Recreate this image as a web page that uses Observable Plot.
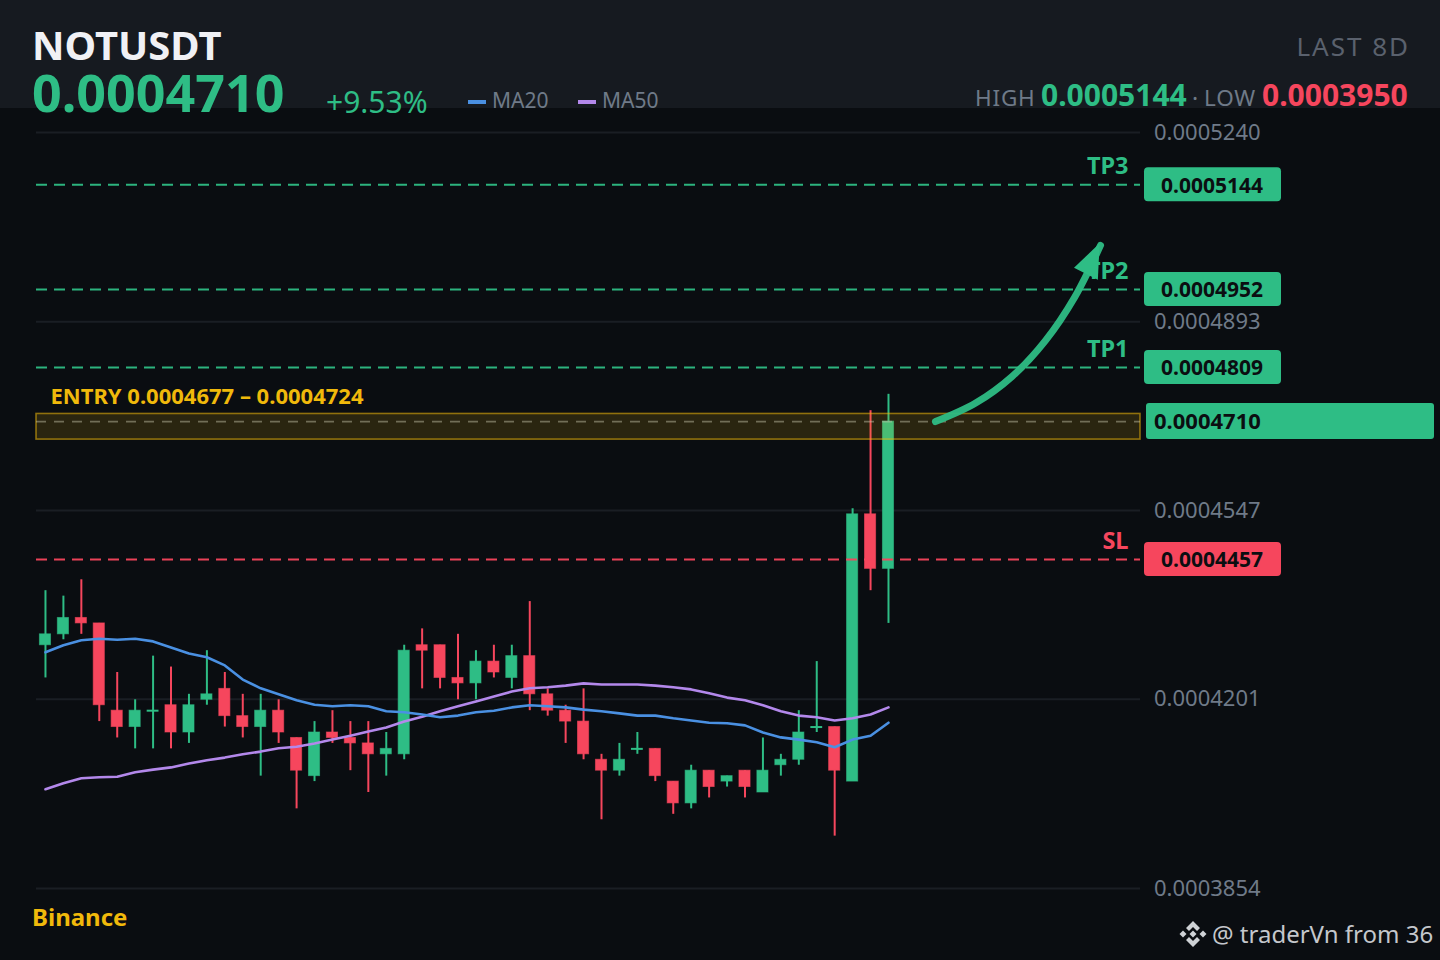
<!DOCTYPE html>
<html><head><meta charset="utf-8">
<script src="https://cdn.jsdelivr.net/npm/d3@7"></script>
<script src="https://cdn.jsdelivr.net/npm/@observablehq/plot@0.6"></script>
<style>
html,body{margin:0;padding:0;background:#0a0d11;width:1440px;height:960px;overflow:hidden;font-family:"Noto Sans",sans-serif}
#header{position:relative;height:108px;background:#161a20;z-index:2}
.t{position:absolute;white-space:nowrap;line-height:1}
#chart{position:absolute;left:0;top:108px;width:1440px;height:852px;z-index:1}
#chart svg{display:block}
.abs{z-index:3}
</style></head><body>
<div id="header">
<div class="t" style="left:32px;top:25px;font-size:40px;font-weight:700;color:#f0f1f5">NOTUSDT</div>
<div class="t" style="left:32px;top:69px;font-size:52px;line-height:46px;font-weight:700;color:#2ebd85">0.0004710</div>
<div class="t" style="left:326px;top:87px;font-size:30px;color:#2ebd85">+9.53%</div>
<div class="t" style="left:468px;top:100px;width:18px;height:4px;background:#4a90e2"></div>
<div class="t" style="left:492px;top:90px;font-size:21px;color:#6f7a88">MA20</div>
<div class="t" style="left:578px;top:100px;width:18px;height:4px;background:#b388eb"></div>
<div class="t" style="left:602px;top:90px;font-size:21px;color:#6f7a88">MA50</div>
<div class="t" style="right:30px;top:33px;font-size:26px;letter-spacing:2px;color:#5a616d">LAST 8D</div>
<div class="t" style="left:975px;top:87px;font-size:22.5px;letter-spacing:.8px;color:#6f7a88">HIGH</div>
<div class="t" style="left:1041px;top:80px;font-size:30px;font-weight:700;color:#2ebd85">0.0005144</div>
<div class="t" style="left:1192px;top:87px;font-size:23px;color:#6f7a88">·</div>
<div class="t" style="left:1204px;top:87px;font-size:22.5px;letter-spacing:.8px;color:#6f7a88">LOW</div>
<div class="t" style="left:1262px;top:80px;font-size:30px;font-weight:700;color:#f6465d">0.0003950</div>
</div>
<div id="chart"></div>
<div class="t abs" style="left:32px;top:905px;font-size:24px;font-weight:700;color:#f0b90b">Binance</div>
<svg class="abs" style="position:absolute;left:1179px;top:920px" width="28" height="28" viewBox="0 0 28 28" fill="#cfd2d6">
<polygon points="14,1 21,8 18,11 14,7 10,11 7,8"/>
<polygon points="14,27 21,20 18,17 14,21 10,17 7,20"/>
<polygon points="4,10.5 7.5,14 4,17.5 0.5,14"/>
<polygon points="24,10.5 27.5,14 24,17.5 20.5,14"/>
<polygon points="14,10.5 17.5,14 14,17.5 10.5,14"/>
</svg>
<div class="t abs" style="left:1212px;top:922px;font-size:24px;color:#c4c7cc">@ traderVn from 36</div>
<script>
const opens = [0.000430,0.000432,0.000435,0.000434,0.000418,0.000415,0.000418,0.000419,0.000414,0.000420,0.000422,0.000417,0.000415,0.000418,0.000413,0.000406,0.000414,0.000413,0.000412,0.000410,0.000410,0.000430,0.000430,0.000424,0.000423,0.000427,0.000424,0.000428,0.000421,0.000418,0.000416,0.000409,0.000407,0.000411,0.000411,0.000405,0.000401,0.000407,0.000405,0.000407,0.000403,0.000408,0.000409,0.000415,0.000415,0.000405,0.000454,0.000444];
const closes = [0.000432,0.000435,0.000434,0.000419,0.000415,0.000418,0.000418,0.000414,0.000419,0.000421,0.000417,0.000415,0.000418,0.000414,0.000407,0.000414,0.000413,0.000412,0.000410,0.000411,0.000429,0.000429,0.000424,0.000423,0.000427,0.000425,0.000428,0.000421,0.000418,0.000416,0.000410,0.000407,0.000409,0.000411,0.000406,0.000401,0.000407,0.000404,0.000406,0.000404,0.000407,0.000409,0.000414,0.000415,0.000407,0.000454,0.000444,0.000471];
const highs = [0.000440,0.000439,0.000442,0.000434,0.000425,0.000420,0.000428,0.000426,0.000421,0.000429,0.000425,0.000421,0.000421,0.000420,0.000413,0.000416,0.000418,0.000416,0.000416,0.000414,0.000430,0.000433,0.000430,0.000432,0.000429,0.000430,0.000430,0.000438,0.000422,0.000419,0.000422,0.000410,0.000412,0.000414,0.000411,0.000405,0.000408,0.000407,0.000406,0.000407,0.000413,0.000410,0.000418,0.000427,0.000415,0.000455,0.000473,0.000476];
const lows = [0.000424,0.000431,0.000432,0.000416,0.000413,0.000411,0.000411,0.000411,0.000412,0.000419,0.000415,0.000413,0.000406,0.000412,0.000400,0.000405,0.000412,0.000407,0.000403,0.000406,0.000409,0.000422,0.000422,0.000420,0.000420,0.000424,0.000422,0.000418,0.000417,0.000412,0.000409,0.000398,0.000406,0.000410,0.000405,0.000399,0.000400,0.000402,0.000404,0.000402,0.000403,0.000406,0.000408,0.000414,0.000395,0.000405,0.000440,0.000434];
const ma20 = [0.0004287,0.0004300,0.0004309,0.0004312,0.0004310,0.0004312,0.0004307,0.0004296,0.0004285,0.0004278,0.0004263,0.0004237,0.0004221,0.0004210,0.0004199,0.0004191,0.0004188,0.0004190,0.0004188,0.0004179,0.0004177,0.0004173,0.0004168,0.0004171,0.0004177,0.0004180,0.0004186,0.0004190,0.0004188,0.0004186,0.0004182,0.0004179,0.0004175,0.0004171,0.0004171,0.0004166,0.0004162,0.0004158,0.0004157,0.0004153,0.0004140,0.0004131,0.0004127,0.0004122,0.0004113,0.0004127,0.0004134,0.0004158];
const ma50 = [0.0004036,0.0004047,0.0004056,0.0004058,0.0004059,0.0004067,0.0004072,0.0004076,0.0004083,0.0004089,0.0004094,0.0004100,0.0004105,0.0004111,0.0004114,0.0004120,0.0004127,0.0004134,0.0004142,0.0004149,0.0004160,0.0004169,0.0004179,0.0004188,0.0004197,0.0004206,0.0004215,0.0004221,0.0004223,0.0004226,0.0004230,0.0004228,0.0004228,0.0004228,0.0004226,0.0004223,0.0004219,0.0004212,0.0004204,0.0004199,0.0004190,0.0004179,0.0004171,0.0004168,0.0004162,0.0004166,0.0004173,0.0004186];
const tickValues = [0.0005240,0.0004893,0.0004547,0.0004201,0.0003854];
const levelNames = ["TP3","TP2","TP1","SL"];
const levelPrices = [0.0005144,0.0004952,0.0004809,0.0004457];
const lastPrice = 0.0004710;
const entryLow = 0.0004677, entryHigh = 0.0004724;
const arrowIndex = [49.62,51.86,53.9,55.74,57.38,58.82];
const arrowPrice = [0.0004710,0.0004744,0.0004793,0.0004858,0.0004938,0.0005033];
const arrowHeadIndex = [58.8,57.37,58.7];
const arrowHeadPrice = [0.0005036,0.0004991,0.0004969];

const GREEN="#2ebd85", RED="#f6465d", GOLD="#f0b90b", DARK="#0b0e11";
const fmt = d => d.toFixed(7);
const candles = opens.map((o,i)=>({i,o,c:closes[i],h:highs[i],l:lows[i],col:closes[i]>=o?GREEN:RED}));
const levels = levelNames.map((name,k)=>({name,price:levelPrices[k],col:name==="SL"?RED:GREEN}));
const ser = a => a.map((v,i)=>({i,v}));

function badges(index,{y}){
  const g = d3.create("svg:g");
  g.attr("font-family","Noto Sans").attr("font-weight",700).attr("text-anchor","start").style("text-anchor","start");
  for(const l of levels){
    g.append("rect").attr("x",1144).attr("width",137).attr("y",y(l.price)-17).attr("height",34).attr("rx",4).attr("fill",l.col);
    g.append("text").attr("x",1161).attr("y",y(l.price)+0.5).attr("dy","0.37em").attr("font-size",21).attr("fill",DARK).text(fmt(l.price));
  }
  g.append("rect").attr("x",1146).attr("width",288).attr("y",y(lastPrice)-18).attr("height",36).attr("rx",3).attr("fill",GREEN);
  g.append("text").attr("x",1154).attr("y",y(lastPrice)).attr("dy","0.37em").attr("font-size",22).attr("fill",DARK).text(fmt(lastPrice));
  return g.node();
}
function arrowHead(index,{x,y}){
  const pts = arrowHeadIndex.map((v,k)=>[x(v),y(arrowHeadPrice[k])]);
  return d3.create("svg:polygon").attr("points",pts.join(" ")).attr("fill",GREEN).node();
}

const plot = Plot.plot({
  width:1440,height:852,
  marginLeft:36,marginRight:300,marginTop:24,marginBottom:72,
  style:{background:"transparent",fontFamily:"Noto Sans"},
  x:{domain:[-0.5,61.05],axis:null},
  y:{domain:[0.0003854,0.000524],axis:null},
  marks:[
    Plot.gridY(tickValues,{stroke:"#1a1e24",strokeOpacity:1,strokeWidth:2}),
    Plot.axisY(tickValues,{anchor:"right",tickSize:0,tickPadding:13.5,tickFormat:fmt,fontSize:22,fill:"#6f7a88",label:null}),
    Plot.ruleX(candles,{x:"i",y1:"l",y2:"h",stroke:"col",strokeWidth:2}),
    Plot.rect(candles,{x1:d=>d.i-0.31,x2:d=>d.i+0.31,y1:"o",y2:"c",fill:"col",stroke:"col",strokeOpacity:0.6,strokeWidth:1}),
    Plot.ruleY(candles.filter(d=>d.o===d.c),{y:"c",x1:d=>d.i-0.33,x2:d=>d.i+0.33,stroke:"col",strokeWidth:2}),
    Plot.line(ser(ma50),{x:"i",y:"v",stroke:"#b388eb",strokeWidth:2.6}),
    Plot.line(ser(ma20),{x:"i",y:"v",stroke:"#4a90e2",strokeWidth:2.6}),
    Plot.rectY([0],{y1:entryLow,y2:entryHigh,fill:GOLD,fillOpacity:0.14,stroke:GOLD,strokeOpacity:0.55,strokeWidth:1.6}),
    Plot.ruleY([lastPrice],{stroke:"#c8c8b0",strokeOpacity:0.45,strokeWidth:1.6,strokeDasharray:"10,8"}),
    Plot.ruleY(levels,{y:"price",stroke:"col",strokeOpacity:0.95,strokeWidth:2,strokeDasharray:"11,7"}),
    Plot.text(levels,{y:"price",text:"name",fill:"col",frameAnchor:"right",textAnchor:"end",dx:-12,dy:-18,fontSize:23.5,fontWeight:700}),
    Plot.text(["ENTRY 0.0004677 – 0.0004724"],{y:entryHigh,frameAnchor:"left",textAnchor:"start",dx:14,dy:-17,fill:GOLD,fontSize:22,fontWeight:700}),
    badges,
    Plot.line(ser(arrowPrice),{x:(d,i)=>arrowIndex[i],y:"v",curve:"catmull-rom",stroke:GREEN,strokeWidth:7,strokeLinecap:"round",strokeOpacity:0.95}),
    arrowHead
  ]
});
document.getElementById("chart").appendChild(plot);
</script>
</body></html>
